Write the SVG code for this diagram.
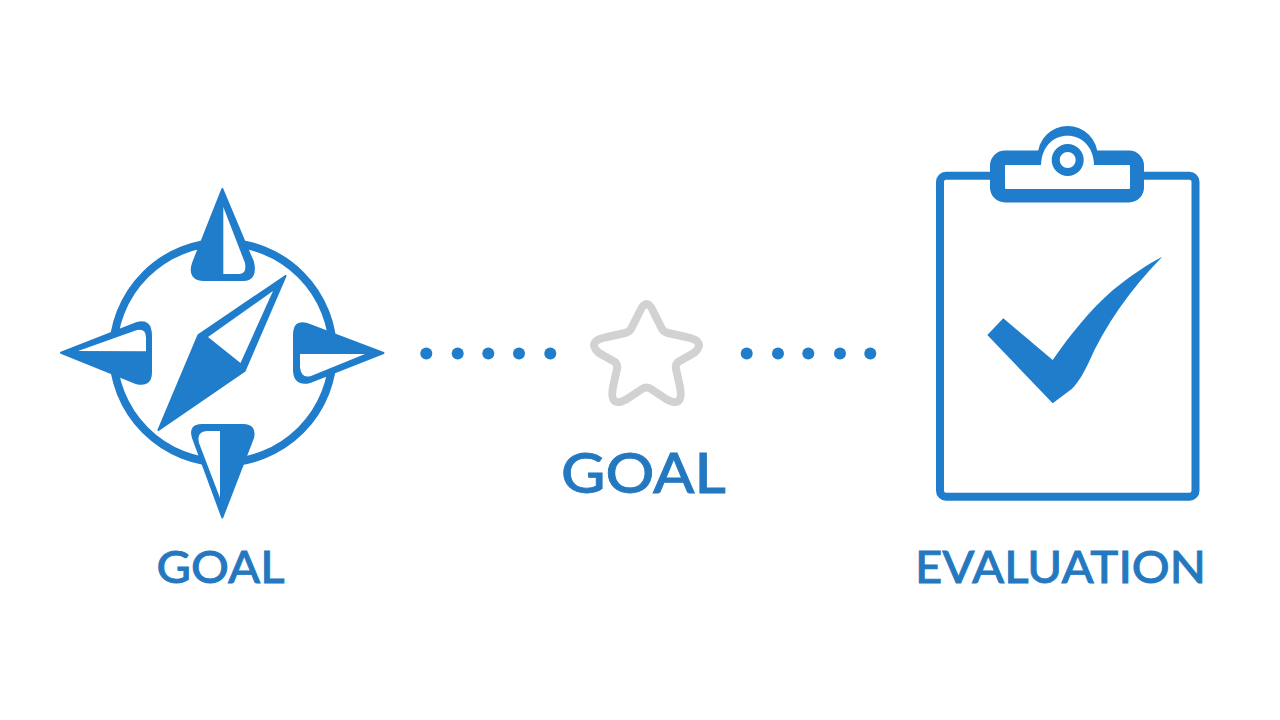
<svg xmlns="http://www.w3.org/2000/svg" width="1280" height="720" viewBox="0 0 1280 720">
<style>
.b{fill:#1f7dcb}
.n{fill:#1f7dcb;stroke:#1f7dcb;stroke-width:2;stroke-linejoin:round}
.w{fill:#fff}
.o{fill:none;stroke:#1f7dcb}
.t{font-family:"Lato","Open Sans",sans-serif;font-weight:500;fill:#2478c0;text-anchor:middle;stroke:#2478c0;stroke-width:.8}
.d{fill:#1f7dcb}
</style>
<rect width="1280" height="720" fill="#fff"/>
<g id="goal-compass">
<circle class="o" cx="223" cy="352.500" r="110" stroke-width="8"/>
<path class="n" d="M222.300 189 L253 262 Q257 280 243 280 L203 280 Q188 279 193 263 Z"/>
<path class="w" d="M223.300 207 L245 263 Q247 274 239 274 L223.300 274 Z"/>
<path class="n" d="M61 352.700 L137 323 Q151 319 151 336 L151 372 Q151 387 136 383 Z"/>
<path class="w" d="M78 351 L137 330 Q146 328 146 338 L146 351.300 Z"/>
<path class="n" d="M383.500 353 L307 324 Q294 320 294 335 L294 371 Q295 386 310 382 Z"/>
<path class="w" d="M365 354 L300 354 L300 367 Q301 379 311 376 Z"/>
<path class="n" d="M222.300 517.500 L253 438 Q256 425 243 425 L202 425 Q189 425 193 438 Z"/>
<path class="w" d="M220 498 L220 431 L210 431 Q196 430 199 443 Z"/>
<path class="n" d="M285.500 276 L198.500 335 L158.500 430 L244.500 371 Z"/>
<path class="w" d="M273 291 L208 337 L240.500 363 Z"/>
</g>
<g id="connectors">
<g class="d">
<circle cx="426.300" cy="353.500" r="6"/><circle cx="457.700" cy="353.500" r="6"/><circle cx="488.300" cy="353.500" r="6"/><circle cx="519" cy="353.500" r="6"/><circle cx="550.300" cy="353.500" r="6"/>
<circle cx="746.700" cy="353.500" r="6"/><circle cx="778" cy="353.500" r="6"/><circle cx="808.300" cy="353.500" r="6"/><circle cx="840" cy="353.500" r="6"/><circle cx="870.300" cy="353.500" r="6"/>
</g>
</g>
<g id="goal-star">
<path d="M639 313 Q646.700 295 654 313 L662 329 Q664 332 668 333 L686 337 Q707 341 694 353 L678 362 Q675 365 676 369 L680 387 Q684 409 666 399 L651 389 Q646.700 386 642 389 L627 399 Q609 409 613 387 L617 369 Q618 365 615 362 L599 353 Q586 341 607 337 L625 333 Q629 332 631 329 Z" fill="#fff" stroke="#d2d2d2" stroke-width="8" stroke-linejoin="round"/>
</g>
<g id="evaluation-clipboard">
<rect class="o" x="940" y="175.700" width="255.500" height="321" rx="6" stroke-width="8"/>
<circle class="b" cx="1067.700" cy="156" r="30"/>
<rect class="b" x="990" y="150.500" width="154" height="52" rx="15"/>
<rect class="w" x="1005" y="165" width="125" height="24" rx="1"/>
<path class="w" d="M1041 165 C1042 126 1093 126 1094 165 Z"/>
<circle class="o" cx="1067.700" cy="160" r="12" stroke-width="8"/>
<path class="b" d="M1162.300 256.700 C1148 264 1130 276 1113 290 C1090 310 1070 335 1052.700 360 L1003.300 318.300 L987.300 335 L1052.700 403.300 L1071.700 389 C1079 382 1084 372 1088 364 C1105 325 1130 290 1162.300 256.700 Z"/>
</g>
<g id="labels">
<text class="t" x="220.500" y="582.500" font-size="45" textLength="128" lengthAdjust="spacingAndGlyphs">GOAL</text>
<text class="t" x="643.500" y="493" font-size="56" textLength="165" lengthAdjust="spacingAndGlyphs">GOAL</text>
<text class="t" x="1060.500" y="582.500" font-size="45" textLength="291" lengthAdjust="spacingAndGlyphs">EVALUATION</text>
</g>
</svg>
